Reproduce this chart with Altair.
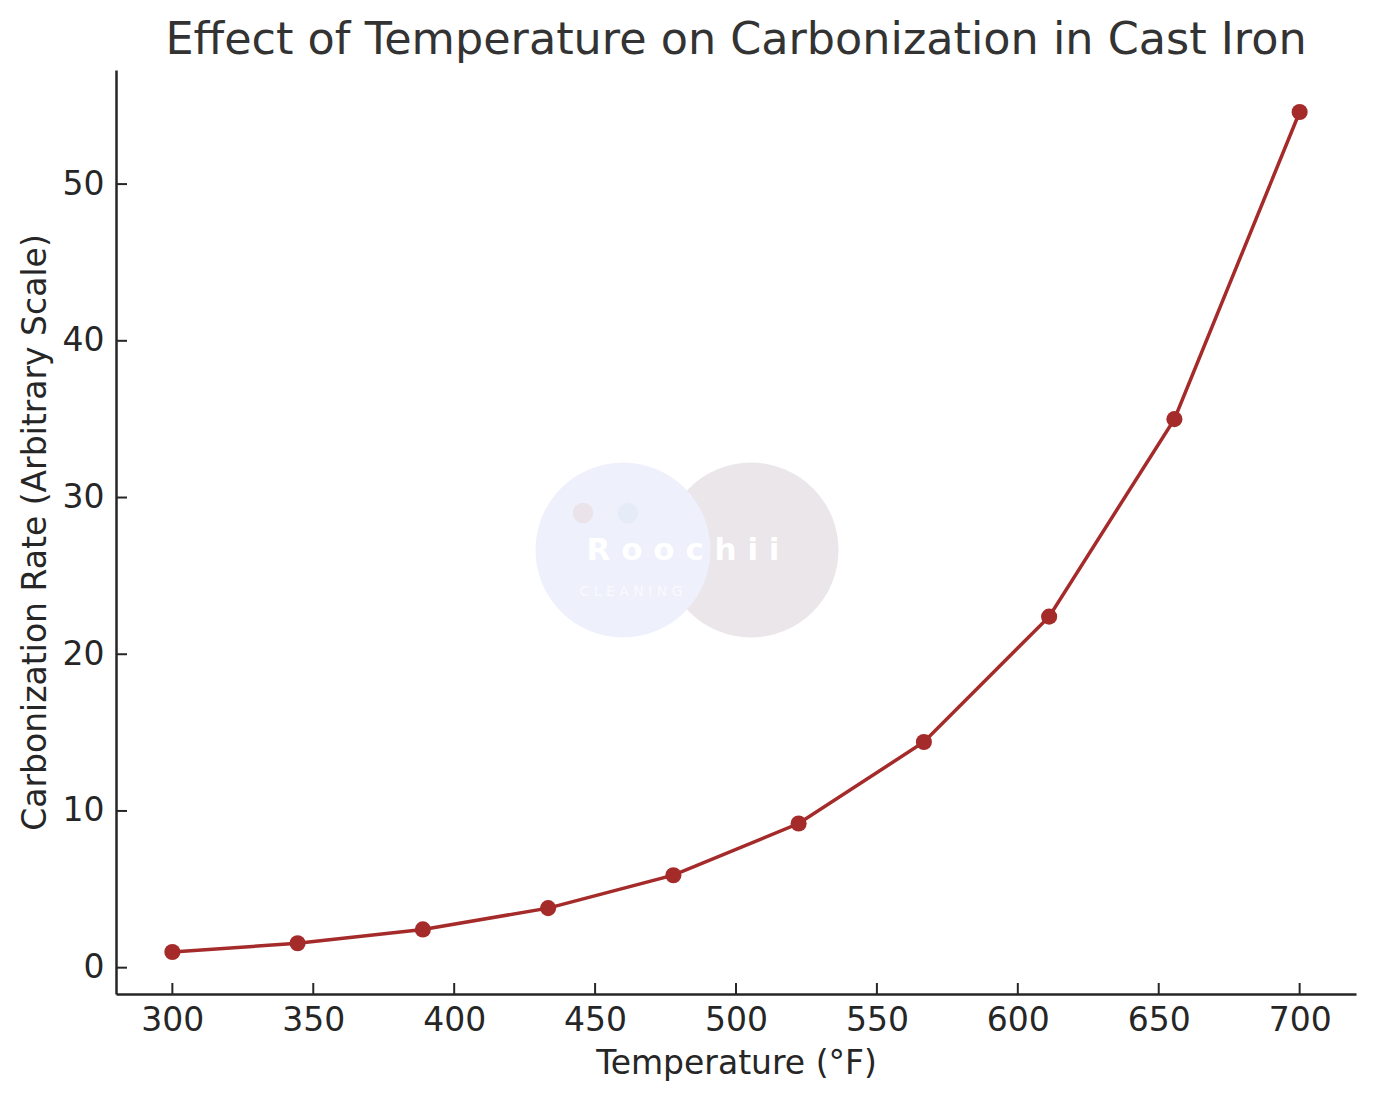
import altair as alt
import pandas as pd

# Data
temps = [300, 344.44, 388.89, 433.33, 477.78, 522.22, 566.67, 611.11, 655.56, 700]
rates = [1.0, 1.56, 2.44, 3.8, 5.9, 9.2, 14.4, 22.4, 35.0, 54.6]
x_ticks = [300, 350, 400, 450, 500, 550, 600, 650, 700]
y_ticks = [0, 10, 20, 30, 40, 50]

W, H = 1240, 924
FONT = "DejaVu Sans"
LINE = "#a52a2a"
AX = "#262626"
FS = 33

df = pd.DataFrame({"t": temps, "r": rates})
xs = alt.Scale(domain=[280, 720], nice=False, zero=False)
ys = alt.Scale(domain=[-1.68, 57.28], nice=False, zero=False)

base = alt.Chart(df)

line = base.mark_line(color=LINE, strokeWidth=3.5).encode(
    x=alt.X("t:Q", scale=xs, title="Temperature (°F)",
            axis=alt.Axis(values=x_ticks, ticks=False, tickSize=0, grid=False,
                          labelFontSize=FS, labelFont=FONT, labelColor=AX,
                          labelBaseline="alphabetic", labelPadding=36,
                          titleFontSize=FS, titleFont=FONT, titleColor=AX,
                          titleFontWeight="normal", titleBaseline="alphabetic",
                          titleY=79, titleX=W / 2,
                          domainColor=AX, domainWidth=2.5, labelFlush=False)),
    y=alt.Y("r:Q", scale=ys, title="Carbonization Rate (Arbitrary Scale)",
            axis=alt.Axis(values=y_ticks, ticks=False, tickSize=0, grid=False,
                          labelFontSize=FS, labelFont=FONT, labelColor=AX,
                          labelPadding=12, labelFlush=False,
                          titleFontSize=FS, titleFont=FONT, titleColor=AX,
                          titleFontWeight="normal", titleBaseline="alphabetic",
                          titleX=-71, titleY=H / 2, titleAngle=-90,
                          domainColor=AX, domainWidth=2.5)),
)
pts = base.mark_point(filled=True, color=LINE, size=260, opacity=1).encode(
    x=alt.X("t:Q", scale=xs), y=alt.Y("r:Q", scale=ys))

# inward ticks
xt = alt.Chart(pd.DataFrame({"v": x_ticks})).mark_rule(color=AX, strokeWidth=2).encode(
    x=alt.X("v:Q", scale=xs), y=alt.value(H), y2=alt.value(H - 11))
yt = alt.Chart(pd.DataFrame({"v": y_ticks})).mark_rule(color=AX, strokeWidth=2).encode(
    y=alt.Y("v:Q", scale=ys), x=alt.value(0), x2=alt.value(11))

# faint watermark logo
wm = pd.DataFrame({"k": [0]})
wbase = alt.Chart(wm)
c_right = wbase.mark_circle(color="#ebe6ea", size=30625, opacity=1).encode(
    x=alt.value(635), y=alt.value(480))
c_left = wbase.mark_circle(color="#eef0fc", size=30625, opacity=1).encode(
    x=alt.value(507), y=alt.value(480))
d1 = wbase.mark_circle(color="#ebe3ea", size=420, opacity=1).encode(
    x=alt.value(467), y=alt.value(443))
d2 = wbase.mark_circle(color="#e6ebf8", size=420, opacity=1).encode(
    x=alt.value(512), y=alt.value(443))
t1 = wbase.mark_text(text="R  o  o  c  h  i  i", font=FONT, fontSize=31,
                     fontWeight="bold", color="white", align="center",
                     baseline="middle").encode(
    x=alt.value(567), y=alt.value(481))
t2 = wbase.mark_text(text="C L E A N I N G", font=FONT, fontSize=14,
                     color="white", opacity=0.7, align="center", baseline="middle").encode(
    x=alt.value(515), y=alt.value(522))

chart = alt.layer(c_right, c_left, d1, d2, t1, t2, line, pts, xt, yt).properties(
    width=W, height=H,
    background="white",
    title=alt.TitleParams("Effect of Temperature on Carbonization in Cast Iron",
                          fontSize=44.5, font=FONT, color="#333333",
                          fontWeight="normal", anchor="middle",
                          baseline="alphabetic", offset=15, dy=43),
    autosize=alt.AutoSizeParams(type="none"),
    padding={"left": 108, "top": 62, "right": 12, "bottom": 90},
).configure_view(stroke="transparent", strokeWidth=0)

chart.save("out.html", embed_options={"renderer": "svg", "actions": False})
